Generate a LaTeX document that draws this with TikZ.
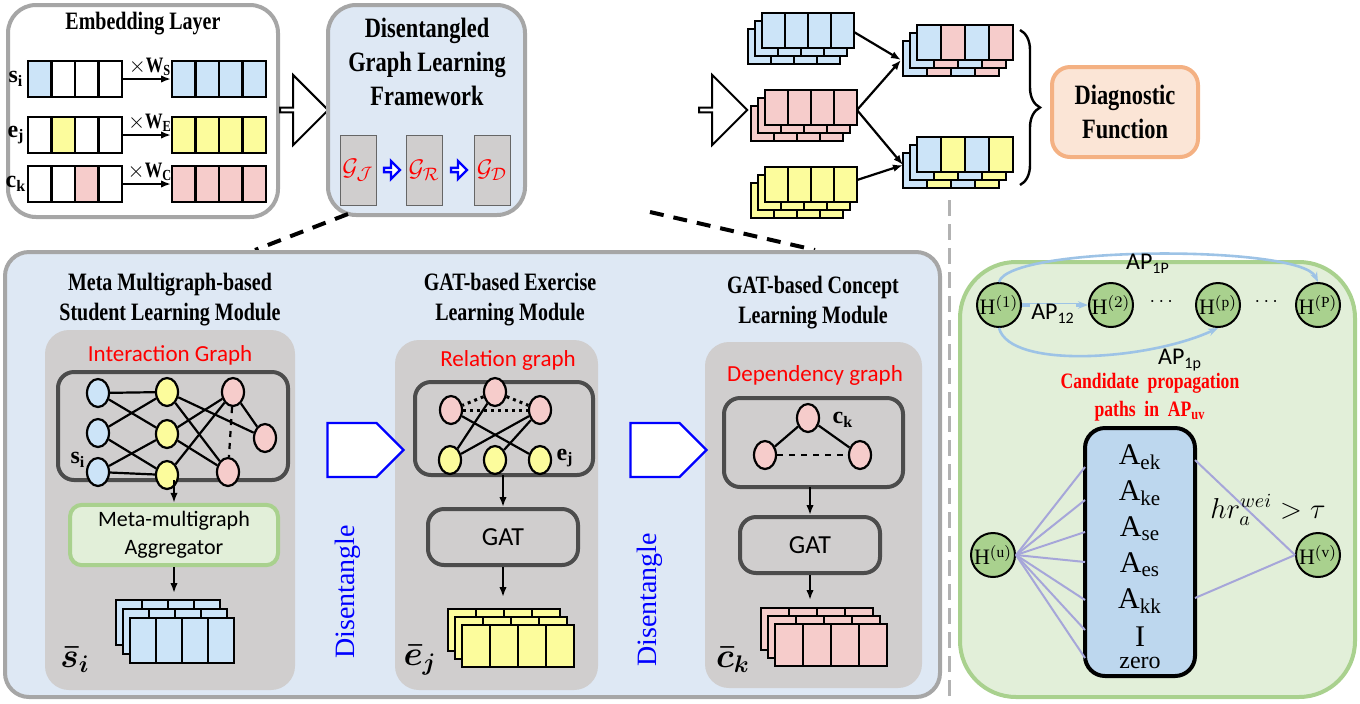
\documentclass[tikz,border=0pt]{standalone}
\usepackage{amsmath}
\usepackage{fontspec}
\setmainfont{Liberation Serif}
\newfontfamily\tnr[FakeStretch=0.8]{Liberation Serif}
\newfontfamily\calib{Carlito}
\usetikzlibrary{shapes.geometric,shapes.arrows,decorations.pathreplacing,arrows.meta}
\definecolor{cb}{HTML}{CCE4F8}
\definecolor{cy}{HTML}{FCFC9C}
\definecolor{cp}{HTML}{F6CCCB}
\definecolor{cg}{HTML}{D0CECE}
\definecolor{panel}{HTML}{DEE8F4}
\definecolor{gfill}{HTML}{E2EFD9}
\definecolor{gline}{HTML}{A9D18E}
\definecolor{ofill}{HTML}{FBE5D6}
\definecolor{oline}{HTML}{F4B183}
\definecolor{nodeg}{HTML}{A9D18E}
\definecolor{hblue}{HTML}{BDD7EE}
\definecolor{apl}{HTML}{9DC3E6}
\newcommand\vstrip[8]{\foreach \vsk/\vsc in {0/#5,1/#6,2/#7,3/#8}{\draw[line width=1.1pt,fill=\vsc] ({#1+\vsk*#3/4},#2) rectangle ++({#3/4},#4);}}
\newcommand\vstack[9]{\vstrip{#1-14}{#2+2*#9}{#3}{#4}{#5}{#6}{#7}{#8}\vstrip{#1-7}{#2+#9}{#3}{#4}{#5}{#6}{#7}{#8}\vstrip{#1}{#2}{#3}{#4}{#5}{#6}{#7}{#8}}
\tikzset{
 bigbox/.style={draw=gray!70,line width=2pt,rounded corners=14pt},
 ttl/.style={font=\tnr\fontsize{12.5}{15}\selectfont\bfseries,align=center},
 hollow/.style={single arrow,draw,line width=1pt,minimum height=#1,single arrow head extend=7pt,inner sep=0pt,minimum width=30pt},
 gn/.style={ellipse,draw,line width=1.1pt,minimum width=11pt,minimum height=14pt,inner sep=0pt},
 hn/.style={circle,draw,line width=1pt,fill=nodeg,minimum size=22pt,inner sep=0pt,font=\fontsize{11}{12}\selectfont},
 inner/.style={draw=black!70,line width=2pt,rounded corners=8pt},
 redt/.style={text=red,font=\calib\fontsize{11.5}{13}\selectfont},
 dis/.style={text=blue,font=\fontsize{14}{16}\selectfont,rotate=90},
 ar/.style={-{Latex[length=5pt]},line width=1.1pt},
}
\begin{document}
\begin{tikzpicture}[x=0.5pt,y=-0.5pt]
\useasboundingbox (0,0) rectangle (1360,703);
% Embedding layer
\draw[bigbox,fill=white] (8,5) rectangle (278,217);
\node[ttl] (emb) at (143,24) {Embedding Layer};
\foreach \ry/\lab/\w/\ca/\cbb/\ccc/\cd/\col in {61/s_i/S/cb/white/white/white/cb, 117/e_j/E/white/cy/white/white/cy, 166/c_k/C/white/white/cp/white/cp}{
 \vstrip{28}{\ry}{94}{36}{\ca}{\cbb}{\ccc}{\cd}
 \vstrip{172}{\ry}{94}{36}{\col}{\col}{\col}{\col}
 \draw[ar] (122,\ry+18) -- (171,\ry+18);
 \node[font=\tnr\fontsize{12}{14}\selectfont\bfseries] at (16,\ry+18) {$\mathbf{\lab}$};
 \node[font=\tnr\fontsize{11}{13}\selectfont\bfseries] at (150,\ry+6) {$\times$W$_\text{\w}$};
}
\node[hollow=24pt,fill=white,minimum width=35pt] (h1) at (303,110) {};
% DGLF
\draw[bigbox,fill=panel] (328,5) rectangle (525,215);
\node[ttl,font=\tnr\fontsize{14}{17}\selectfont\bfseries] (dglf) at (427,62) {Disentangled\\Graph Learning\\Framework};
\foreach \gx/\gl in {340/J,406/R,474/D}{
 \draw[fill=cg,draw=black!60] (\gx,135) rectangle ++(36,70);
 \node[text=red,font=\fontsize{13}{14}\selectfont] at (\gx+18,170) {$\mathcal{G}_{\mathcal{\gl}}$};}
\foreach \gx in {391,458}{\node[single arrow,draw=blue,fill=white,line width=1.2pt,minimum height=8pt,minimum width=9pt,single arrow head extend=2pt,inner sep=0pt] at (\gx,170) {};}
\node[hollow=24pt,fill=white,minimum width=35pt] (h2) at (722,110) {};
% stacks top
\vstack{762}{13}{92}{35}{cb}{cb}{cb}{cb}{8}
\vstack{765}{90}{92}{35}{cp}{cp}{cp}{cp}{8}
\vstack{765}{167}{92}{35}{cy}{cy}{cy}{cy}{8}
\vstack{917}{25}{96}{35}{cb}{cp}{cb}{cp}{8}
\vstack{917}{137}{96}{35}{cb}{cy}{cb}{cy}{8}
\coordinate (sb) at (854,32); \coordinate (sp) at (857,110); \coordinate (sy) at (857,180);
\coordinate (t1) at (901,60); \coordinate (t2) at (903,165);
\draw[ar] (sb) -- (t1); \draw[ar] (sp) -- (t1); \draw[ar] (sp) -- (t2); \draw[ar] (sy) -- (t2);
\draw[line width=1.2pt,decorate,decoration={brace,amplitude=10pt}] (1020,30) -- (1020,185);
\node[draw=oline,fill=ofill,line width=2pt,rounded corners=9pt,minimum width=73pt,minimum height=45pt,ttl,font=\tnr\fontsize{14}{17}\selectfont\bfseries] (diag) at (1125,112) {Diagnostic\\Function};
% dashed
\draw[line width=2pt,dash pattern=on 7pt off 5pt] (348,214) -- (255,250);
\draw[line width=2pt,dash pattern=on 7pt off 5pt] (650,212) -- (815,250);
\draw[gray!60,line width=1.5pt,dash pattern=on 8pt off 4pt] (949,200) -- (949,703);
% bottom panel
\draw[bigbox,fill=panel,rounded corners=12pt] (5,252) rectangle (940,697);
\node[ttl] at (170,300) {Meta Multigraph-based\\Student Learning Module};
\node[ttl] at (510,300) {GAT-based Exercise\\Learning Module};
\node[ttl] at (813,303) {GAT-based Concept\\Learning Module};
\foreach \qa/\qb/\qc/\qd in {45/330/295/690, 395/340/598/690, 705/342/922/688}
 \fill[cg,rounded corners=12pt] (\qa,\qb) rectangle (\qc,\qd);
% col1
\node[redt] at (170,355) {Interaction Graph};
\draw[inner] (58,372) rectangle (288,480);
\foreach \n/\nx/\ny in {b1/98/393,b2/98/433,b3/98/472}\node[gn,fill=cb] (\n) at (\nx,\ny) {};
\foreach \n/\nx/\ny in {y1/167/392,y2/167/434,y3/167/475}\node[gn,fill=cy] (\n) at (\nx,\ny) {};
\foreach \n/\nx/\ny in {p1/233/392,p2/265/438,p3/228/472}\node[gn,fill=cp] (\n) at (\nx,\ny) {};
\foreach \ea/\eb in {b1/y1,b1/y2,b2/y1,b2/y3,b3/y2,b3/y3,y1/p2,y1/p3,y2/p1,y2/p3,y3/p1,p1/p2}\draw[line width=1.1pt] (\ea) -- (\eb);
\draw[line width=1.1pt,dashed] (p1) -- (p3);
\node[font=\tnr\fontsize{12}{14}\selectfont\bfseries] at (78,460) {$\mathbf{s_i}$};
\node[draw=gline,fill=gfill,line width=2pt,rounded corners=6pt,minimum width=104pt,minimum height=30pt,align=center,font=\calib\fontsize{11}{14}\selectfont] (agg) at (174,535) {Meta-multigraph\\Aggregator};
\coordinate (g1) at (174,480);
\draw[ar] (g1) -- (agg.north);
\coordinate (s1) at (174,593);
\draw[ar] (agg.south) -- (s1);
\vstack{130}{618}{104}{45}{cb}{cb}{cb}{cb}{-9}
\node[font=\fontsize{17}{18}\selectfont] at (75,660) {$\boldsymbol{\bar{s}_i}$};
% col2
\node[redt] at (508,360) {Relation graph};
\draw[inner] (415,382) rectangle (593,475);
\node[gn,fill=cp] (r1) at (495,392) {};
\node[gn,fill=cp] (r2) at (451,410) {};
\node[gn,fill=cp] (r3) at (540,410) {};
\node[gn,fill=cy] (e1) at (450,460) {};
\node[gn,fill=cy] (e2) at (495,460) {};
\node[gn,fill=cy] (e3) at (540,460) {};
\foreach \ea/\eb in {r1/r2,r1/r3,r2/r3}\draw[line width=1.5pt,dotted] (\ea) -- (\eb);
\foreach \ea/\eb in {e1/r1,e1/r3,r2/e3,e2/r3}\draw[line width=1.1pt] (\ea) -- (\eb);
\node[font=\tnr\fontsize{12}{14}\selectfont\bfseries] at (565,458) {$\mathbf{e_j}$};
\node[inner,minimum width=75pt,minimum height=28pt,font=\calib\fontsize{13}{14}\selectfont] (gat1) at (503,537) {GAT};
\coordinate (g2) at (503,475); \draw[ar] (g2) -- (gat1.north);
\coordinate (s2) at (503,597); \draw[ar] (gat1.south) -- (s2);
\vstack{462}{625}{112}{42}{cy}{cy}{cy}{cy}{-8}
\node[font=\fontsize{17}{18}\selectfont] at (420,660) {$\boldsymbol{\bar{e}_j}$};
% col3
\node[redt] at (815,375) {Dependency graph};
\draw[inner] (724,398) rectangle (903,487);
\node[gn,fill=cp] (k1) at (808,418) {};
\node[gn,fill=cp] (k2) at (765,455) {};
\node[gn,fill=cp] (k3) at (860,455) {};
\draw[line width=1.1pt] (k1) -- (k2); \draw[line width=1.1pt] (k1) -- (k3);
\draw[line width=1.3pt,dashed] (k2) -- (k3);
\node[font=\tnr\fontsize{12}{14}\selectfont\bfseries] at (843,420) {$\mathbf{c_k}$};
\node[inner,minimum width=70pt,minimum height=28pt,font=\calib\fontsize{13}{14}\selectfont] (gat2) at (810,545) {GAT};
\coordinate (g3) at (810,487); \draw[ar] (g3) -- (gat2.north);
\coordinate (s3) at (810,600); \draw[ar] (gat2.south) -- (s3);
\vstack{775}{624}{112}{42}{cp}{cp}{cp}{cp}{-8}
\node[font=\fontsize{17}{18}\selectfont] at (733,660) {$\boldsymbol{\bar{c}_k}$};
% disentangle
\node[single arrow,draw=blue,fill=white,line width=1.2pt,minimum height=38pt,minimum width=27pt,single arrow head extend=0pt,inner sep=4pt] (d1) at (352,450) {};
\node[single arrow,draw=blue,fill=white,line width=1.2pt,minimum height=38pt,minimum width=27pt,single arrow head extend=0pt,inner sep=4pt] (d2) at (655,450) {};
\node[dis] at (348,592) {Disentangle};
\node[dis] at (650,600) {Disentangle};
% right panel
\draw[draw=gline,fill=gfill,line width=2pt,rounded corners=28pt] (960,262) rectangle (1355,697);
\node[hn] (H1) at (999,305) {H$^{(1)}$};
\node[hn] (H2) at (1111,305) {H$^{(2)}$};
\node[hn] (Hp) at (1218,305) {H$^{(\text{p})}$};
\node[hn] (HP) at (1318,305) {H$^{(\text{P})}$};
\node at (1163,302) {$\cdots$};
\node at (1268,302) {$\cdots$};
\draw[apl,line width=1.3pt,-{Stealth[length=5pt]}] (H1.north) .. controls (1010,245) and (1300,245) .. (HP.north);
\draw[apl,line width=1.8pt,-{Stealth[length=5pt]}] (H1) -- (H2);
\draw[apl,line width=1.3pt,-{Stealth[length=5pt]}] (H1.south) .. controls (1010,370) and (1150,360) .. (Hp.south);
\node[font=\calib\fontsize{12}{13}\selectfont] at (1148,264) {AP$_\text{1P}$};
\node[font=\calib\fontsize{12}{13}\selectfont,fill=gfill,inner sep=0.5pt] at (1053,314) {AP$_\text{12}$};
\node[font=\calib\fontsize{12}{13}\selectfont] at (1180,360) {AP$_\text{1p}$};
\node[text=red,font=\tnr\fontsize{11}{14}\selectfont\bfseries,align=center] at (1150,397) {Candidate\ \ propagation\\paths\ \ in\ \ AP$_\text{uv}$};
\node[draw,line width=2pt,fill=hblue,rounded corners=10pt,minimum width=55pt,minimum height=124pt] (cand) at (1140,552) {};
\foreach \tt [count=\ii] in {A$_\text{ek}$,A$_\text{ke}$,A$_\text{se}$,A$_\text{es}$,A$_\text{kk}$,I}
 \node[font=\fontsize{15}{16}\selectfont] at (1140,421+\ii*36) {\tt};
\node[font=\fontsize{12}{13}\selectfont] at (1140,663) {zero};
\node[hn] (Hu) at (993,555) {H$^{(\text{u})}$};
\node[hn] (Hv) at (1318,555) {H$^{(\text{v})}$};
\foreach \ly in {467,500,532,562,600,630,658}{\coordinate (cl\ly) at (1085,\ly); \draw[gray!60!blue!50,line width=1pt] (Hu.east) -- (cl\ly);}
\coordinate (cr1) at (1195,460); \coordinate (cr2) at (1195,598);
\draw[gray!60!blue!50,line width=1pt] (cr1) -- (Hv.west); \draw[gray!60!blue!50,line width=1pt] (cr2) -- (Hv.west);
\node[font=\fontsize{14}{15}\selectfont] at (1268,510) {$hr_a^{wei} > \tau$};
\end{tikzpicture}
\end{document}
